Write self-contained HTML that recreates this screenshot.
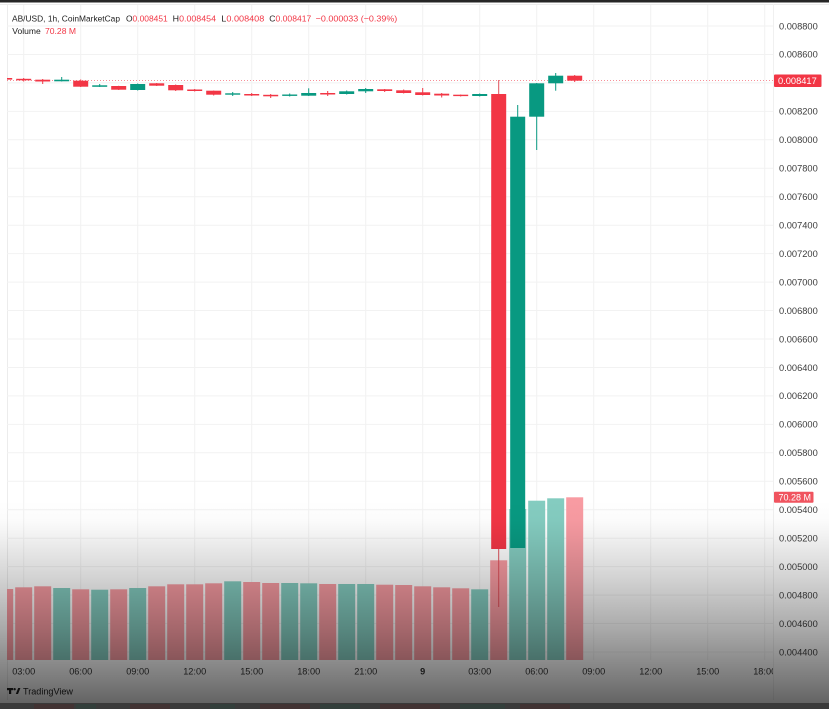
<!DOCTYPE html>
<html>
<head>
<meta charset="utf-8">
<style>
  html,body{margin:0;padding:0;background:#fff;}
  body{width:829px;height:709px;overflow:hidden;}
  svg{display:block;font-family:"Liberation Sans",sans-serif;}
</style>
</head>
<body>
<svg width="829" height="709" viewBox="0 0 829 709" xmlns="http://www.w3.org/2000/svg">
  <defs>
    <clipPath id="plot"><rect x="7" y="4" width="766" height="660"/></clipPath>
    <clipPath id="taxis"><rect x="0" y="660" width="773" height="30"/></clipPath>
    <linearGradient id="shade" x1="0" y1="0" x2="0" y2="1">
      <stop offset="0" stop-color="#000" stop-opacity="0"/>
      <stop offset="0.10" stop-color="#000" stop-opacity="0.015"/>
      <stop offset="0.17" stop-color="#000" stop-opacity="0.05"/>
      <stop offset="0.393" stop-color="#000" stop-opacity="0.18"/>
      <stop offset="0.64" stop-color="#000" stop-opacity="0.34"/>
      <stop offset="0.886" stop-color="#000" stop-opacity="0.52"/>
      <stop offset="1" stop-color="#000" stop-opacity="0.61"/>
    </linearGradient>
  </defs>

  <rect x="0" y="0" width="829" height="709" fill="#ffffff"/>
  <rect x="0" y="0" width="829" height="2.5" fill="#262626"/>
  <line x1="0" y1="4.5" x2="829" y2="4.5" stroke="#ececec" stroke-width="1"/>
  <line x1="7.5" y1="4" x2="7.5" y2="700" stroke="#ececec" stroke-width="1"/>

  <g stroke="#f2f2f2" stroke-width="1" clip-path="url(#plot)">
    <line x1="7" x2="773" y1="26" y2="26"/>
    <line x1="7" x2="773" y1="54.45" y2="54.45"/>
    <line x1="7" x2="773" y1="82.9" y2="82.9"/>
    <line x1="7" x2="773" y1="111.4" y2="111.4"/>
    <line x1="7" x2="773" y1="139.8" y2="139.8"/>
    <line x1="7" x2="773" y1="168.3" y2="168.3"/>
    <line x1="7" x2="773" y1="196.7" y2="196.7"/>
    <line x1="7" x2="773" y1="225.2" y2="225.2"/>
    <line x1="7" x2="773" y1="253.6" y2="253.6"/>
    <line x1="7" x2="773" y1="282.1" y2="282.1"/>
    <line x1="7" x2="773" y1="310.5" y2="310.5"/>
    <line x1="7" x2="773" y1="339" y2="339"/>
    <line x1="7" x2="773" y1="367.5" y2="367.5"/>
    <line x1="7" x2="773" y1="395.9" y2="395.9"/>
    <line x1="7" x2="773" y1="424.4" y2="424.4"/>
    <line x1="7" x2="773" y1="452.8" y2="452.8"/>
    <line x1="7" x2="773" y1="481.3" y2="481.3"/>
    <line x1="7" x2="773" y1="509.7" y2="509.7"/>
    <line x1="7" x2="773" y1="538.2" y2="538.2"/>
    <line x1="7" x2="773" y1="566.6" y2="566.6"/>
    <line x1="7" x2="773" y1="595.1" y2="595.1"/>
    <line x1="7" x2="773" y1="623.5" y2="623.5"/>
    <line x1="7" x2="773" y1="652" y2="652"/>
    <line y1="5" y2="660" x1="23.7" x2="23.7"/>
    <line y1="5" y2="660" x1="80.7" x2="80.7"/>
    <line y1="5" y2="660" x1="137.7" x2="137.7"/>
    <line y1="5" y2="660" x1="194.7" x2="194.7"/>
    <line y1="5" y2="660" x1="251.7" x2="251.7"/>
    <line y1="5" y2="660" x1="308.7" x2="308.7"/>
    <line y1="5" y2="660" x1="365.7" x2="365.7"/>
    <line y1="5" y2="660" x1="422.7" x2="422.7"/>
    <line y1="5" y2="660" x1="479.7" x2="479.7"/>
    <line y1="5" y2="660" x1="536.7" x2="536.7"/>
    <line y1="5" y2="660" x1="593.7" x2="593.7"/>
    <line y1="5" y2="660" x1="650.7" x2="650.7"/>
    <line y1="5" y2="660" x1="707.7" x2="707.7"/>
    <line y1="5" y2="660" x1="764.7" x2="764.7"/>
  </g>
  <line x1="773.5" y1="4" x2="773.5" y2="700" stroke="#f0f0f0" stroke-width="1"/>

  <g clip-path="url(#plot)">
    <rect x="-3.8" y="589" width="17" height="71" fill="#f89ba2"/>
    <rect x="15.2" y="587.3" width="17" height="72.7" fill="#f89ba2"/>
    <rect x="34.2" y="586.3" width="17" height="73.7" fill="#f89ba2"/>
    <rect x="53.2" y="588" width="17" height="72" fill="#84ccc0"/>
    <rect x="72.2" y="589.3" width="17" height="70.7" fill="#f89ba2"/>
    <rect x="91.2" y="589.7" width="17" height="70.3" fill="#84ccc0"/>
    <rect x="110.2" y="589.3" width="17" height="70.7" fill="#f89ba2"/>
    <rect x="129.2" y="588" width="17" height="72" fill="#84ccc0"/>
    <rect x="148.2" y="586.3" width="17" height="73.7" fill="#f89ba2"/>
    <rect x="167.2" y="584.3" width="17" height="75.7" fill="#f89ba2"/>
    <rect x="186.2" y="584.3" width="17" height="75.7" fill="#f89ba2"/>
    <rect x="205.2" y="583.3" width="17" height="76.7" fill="#f89ba2"/>
    <rect x="224.2" y="581.3" width="17" height="78.7" fill="#84ccc0"/>
    <rect x="243.2" y="582" width="17" height="78" fill="#f89ba2"/>
    <rect x="262.2" y="583" width="17" height="77" fill="#f89ba2"/>
    <rect x="281.2" y="583" width="17" height="77" fill="#84ccc0"/>
    <rect x="300.2" y="583.3" width="17" height="76.7" fill="#84ccc0"/>
    <rect x="319.2" y="584" width="17" height="76" fill="#f89ba2"/>
    <rect x="338.2" y="584" width="17" height="76" fill="#84ccc0"/>
    <rect x="357.2" y="584" width="17" height="76" fill="#84ccc0"/>
    <rect x="376.2" y="584.7" width="17" height="75.3" fill="#f89ba2"/>
    <rect x="395.2" y="585" width="17" height="75" fill="#f89ba2"/>
    <rect x="414.2" y="586.3" width="17" height="73.7" fill="#f89ba2"/>
    <rect x="433.2" y="587.3" width="17" height="72.7" fill="#f89ba2"/>
    <rect x="452.2" y="588.3" width="17" height="71.7" fill="#f89ba2"/>
    <rect x="471.2" y="589.3" width="17" height="70.7" fill="#84ccc0"/>
    <rect x="490.2" y="560.3" width="17" height="99.7" fill="#f89ba2"/>
    <rect x="509.2" y="509" width="17" height="151" fill="#84ccc0"/>
    <rect x="528.2" y="500.7" width="17" height="159.3" fill="#84ccc0"/>
    <rect x="547.2" y="498.3" width="17" height="161.7" fill="#84ccc0"/>
    <rect x="566.2" y="497.3" width="17" height="162.7" fill="#f89ba2"/>
  </g>

  <line x1="7" y1="80.5" x2="773" y2="80.5" stroke="#f23645" stroke-width="1" stroke-dasharray="1,2" opacity="0.55"/>

  <g clip-path="url(#plot)">
    <g stroke-width="1">
      <line x1="4.7" x2="4.7" y1="77.5" y2="80" stroke="#f23645"/>
      <line x1="23.7" x2="23.7" y1="78" y2="81.5" stroke="#f23645"/>
      <line x1="42.7" x2="42.7" y1="79" y2="84" stroke="#f23645"/>
      <line x1="61.7" x2="61.7" y1="77" y2="81.5" stroke="#089981"/>
      <line x1="80.7" x2="80.7" y1="79.5" y2="87" stroke="#f23645"/>
      <line x1="99.7" x2="99.7" y1="84" y2="87" stroke="#089981"/>
      <line x1="118.7" x2="118.7" y1="85.8" y2="90" stroke="#f23645"/>
      <line x1="137.7" x2="137.7" y1="83.5" y2="90.5" stroke="#089981"/>
      <line x1="156.7" x2="156.7" y1="83" y2="86" stroke="#f23645"/>
      <line x1="175.7" x2="175.7" y1="84.5" y2="91" stroke="#f23645"/>
      <line x1="194.7" x2="194.7" y1="89" y2="91.5" stroke="#f23645"/>
      <line x1="213.7" x2="213.7" y1="90.5" y2="95.5" stroke="#f23645"/>
      <line x1="232.7" x2="232.7" y1="92" y2="96" stroke="#089981"/>
      <line x1="251.7" x2="251.7" y1="93" y2="96" stroke="#f23645"/>
      <line x1="270.7" x2="270.7" y1="94" y2="98" stroke="#f23645"/>
      <line x1="289.7" x2="289.7" y1="93.5" y2="96.5" stroke="#089981"/>
      <line x1="308.7" x2="308.7" y1="88.3" y2="96" stroke="#089981"/>
      <line x1="327.7" x2="327.7" y1="91" y2="96" stroke="#f23645"/>
      <line x1="346.7" x2="346.7" y1="90.5" y2="94.5" stroke="#089981"/>
      <line x1="365.7" x2="365.7" y1="88" y2="93" stroke="#089981"/>
      <line x1="384.7" x2="384.7" y1="89" y2="92" stroke="#f23645"/>
      <line x1="403.7" x2="403.7" y1="89.5" y2="93.5" stroke="#f23645"/>
      <line x1="422.7" x2="422.7" y1="88" y2="95.5" stroke="#f23645"/>
      <line x1="441.7" x2="441.7" y1="93" y2="97.5" stroke="#f23645"/>
      <line x1="460.7" x2="460.7" y1="94.5" y2="96.5" stroke="#f23645"/>
      <line x1="479.7" x2="479.7" y1="93.5" y2="96.5" stroke="#089981"/>
      <line x1="498.7" x2="498.7" y1="80" y2="607" stroke="#e0505a"/>
      <line x1="517.7" x2="517.7" y1="105" y2="548" stroke="#089981"/>
      <line x1="536.7" x2="536.7" y1="83" y2="150" stroke="#089981"/>
      <line x1="555.7" x2="555.7" y1="73" y2="90.7" stroke="#089981"/>
      <line x1="574.7" x2="574.7" y1="75" y2="82" stroke="#f23645"/>
    </g>
    <rect x="-2.8" y="78" width="15" height="1.6" fill="#f23645"/>
    <rect x="16.2" y="78.8" width="15" height="1.5" fill="#f23645"/>
    <rect x="35.2" y="79.7" width="15" height="1.8" fill="#f23645"/>
    <rect x="54.2" y="79.7" width="15" height="1.6" fill="#089981"/>
    <rect x="73.2" y="80.7" width="15" height="6" fill="#f23645"/>
    <rect x="92.2" y="85.3" width="15" height="1.5" fill="#089981"/>
    <rect x="111.2" y="86" width="15" height="3.7" fill="#f23645"/>
    <rect x="130.2" y="84" width="15" height="6" fill="#089981"/>
    <rect x="149.2" y="83.3" width="15" height="2.4" fill="#f23645"/>
    <rect x="168.2" y="85" width="15" height="5.3" fill="#f23645"/>
    <rect x="187.2" y="89.5" width="15" height="1.5" fill="#f23645"/>
    <rect x="206.2" y="90.7" width="15" height="4" fill="#f23645"/>
    <rect x="225.2" y="93.3" width="15" height="1.4" fill="#089981"/>
    <rect x="244.2" y="94" width="15" height="1.5" fill="#f23645"/>
    <rect x="263.2" y="94.8" width="15" height="1.5" fill="#f23645"/>
    <rect x="282.2" y="94.5" width="15" height="1.4" fill="#089981"/>
    <rect x="301.2" y="93" width="15" height="2.7" fill="#089981"/>
    <rect x="320.2" y="93" width="15" height="1.5" fill="#f23645"/>
    <rect x="339.2" y="91.3" width="15" height="2.7" fill="#089981"/>
    <rect x="358.2" y="89" width="15" height="2.3" fill="#089981"/>
    <rect x="377.2" y="89.3" width="15" height="1.7" fill="#f23645"/>
    <rect x="396.2" y="90.3" width="15" height="2.7" fill="#f23645"/>
    <rect x="415.2" y="92.3" width="15" height="2.7" fill="#f23645"/>
    <rect x="434.2" y="93.7" width="15" height="1.8" fill="#f23645"/>
    <rect x="453.2" y="94.7" width="15" height="1.4" fill="#f23645"/>
    <rect x="472.2" y="94" width="15" height="2" fill="#089981"/>
    <rect x="491.2" y="94" width="15" height="455" fill="#f23645"/>
    <rect x="510.2" y="116.7" width="15" height="431.3" fill="#089981"/>
    <rect x="529.2" y="83.3" width="15" height="33.4" fill="#089981"/>
    <rect x="548.2" y="75.7" width="15" height="7.6" fill="#089981"/>
    <rect x="567.2" y="75.7" width="15" height="5" fill="#f23645"/>
  </g>

  <g font-size="9.3" fill="#3b3b3b">
    <text x="779" y="29.3">0.008800</text>
    <text x="779" y="57.7">0.008600</text>
    <text x="779" y="114.6">0.008200</text>
    <text x="779" y="143.1">0.008000</text>
    <text x="779" y="171.6">0.007800</text>
    <text x="779" y="200">0.007600</text>
    <text x="779" y="228.5">0.007400</text>
    <text x="779" y="256.9">0.007200</text>
    <text x="779" y="285.4">0.007000</text>
    <text x="779" y="313.8">0.006800</text>
    <text x="779" y="342.3">0.006600</text>
    <text x="779" y="370.8">0.006400</text>
    <text x="779" y="399.2">0.006200</text>
    <text x="779" y="427.7">0.006000</text>
    <text x="779" y="456.1">0.005800</text>
    <text x="779" y="484.6">0.005600</text>
    <text x="779" y="513">0.005400</text>
    <text x="779" y="541.5">0.005200</text>
    <text x="779" y="569.9">0.005000</text>
    <text x="779" y="598.4">0.004800</text>
    <text x="779" y="626.8">0.004600</text>
    <text x="779" y="655.3">0.004400</text>
  </g>
  <rect x="774" y="74.5" width="47.5" height="12.5" rx="1" fill="#f23645"/>
  <text x="778" y="84.2" font-size="9.3" fill="#ffffff">0.008417</text>
  <rect x="774" y="491.7" width="39.5" height="11" rx="1" fill="#f0545f"/>
  <text x="778.5" y="500.6" font-size="9" fill="#ffffff">70.28 M</text>

  <g font-size="9.2" fill="#333" text-anchor="middle" clip-path="url(#taxis)">
    <text x="23.7" y="674.3">03:00</text>
    <text x="80.7" y="674.3">06:00</text>
    <text x="137.7" y="674.3">09:00</text>
    <text x="194.7" y="674.3">12:00</text>
    <text x="251.7" y="674.3">15:00</text>
    <text x="308.7" y="674.3">18:00</text>
    <text x="365.7" y="674.3">21:00</text>
    <text x="422.7" y="674.3" font-weight="bold">9</text>
    <text x="479.7" y="674.3">03:00</text>
    <text x="536.7" y="674.3">06:00</text>
    <text x="593.7" y="674.3">09:00</text>
    <text x="650.7" y="674.3">12:00</text>
    <text x="707.7" y="674.3">15:00</text>
    <text x="764.7" y="674.3">18:00</text>
  </g>

  <g fill="#222">
    <rect x="7" y="688" width="6" height="2.2"/>
    <rect x="9" y="688" width="2.2" height="6"/>
    <circle cx="14.6" cy="689.2" r="1.2"/>
    <polygon points="15.8,694 18.2,688 20.4,688 18,694"/>
  </g>
  <text x="23" y="694.6" font-size="9.6" fill="#222" textLength="50" lengthAdjust="spacingAndGlyphs">TradingView</text>

  <g font-size="8.6">
    <text x="12" y="21.5" fill="#222" textLength="108" lengthAdjust="spacingAndGlyphs">AB/USD, 1h, CoinMarketCap</text>
    <text x="126" y="21.5" textLength="41.7" lengthAdjust="spacingAndGlyphs"><tspan fill="#222">O</tspan><tspan fill="#f23645">0.008451</tspan></text>
    <text x="172.7" y="21.5" textLength="43.3" lengthAdjust="spacingAndGlyphs"><tspan fill="#222">H</tspan><tspan fill="#f23645">0.008454</tspan></text>
    <text x="221.3" y="21.5" textLength="43" lengthAdjust="spacingAndGlyphs"><tspan fill="#222">L</tspan><tspan fill="#f23645">0.008408</tspan></text>
    <text x="269.3" y="21.5" textLength="42" lengthAdjust="spacingAndGlyphs"><tspan fill="#222">C</tspan><tspan fill="#f23645">0.008417</tspan></text>
    <text x="315.7" y="21.5" fill="#f23645" textLength="81.6" lengthAdjust="spacingAndGlyphs">−0.000033 (−0.39%)</text>
    <text x="12.3" y="34" fill="#222" textLength="28.4" lengthAdjust="spacingAndGlyphs">Volume</text>
    <text x="45" y="34" fill="#f23645" textLength="31" lengthAdjust="spacingAndGlyphs">70.28 M</text>
  </g>

  <rect x="0" y="500" width="829" height="203" fill="url(#shade)"/>
  <rect x="0" y="703" width="829" height="6" fill="#3a3a3a"/>
  <g opacity="0.9">
    <rect x="34" y="704" width="40" height="5" fill="#433333"/>
    <rect x="76" y="704" width="20" height="5" fill="#33403c"/>
    <rect x="130" y="704" width="40" height="5" fill="#433333"/>
    <rect x="210" y="704" width="25" height="5" fill="#33403c"/>
    <rect x="260" y="704" width="50" height="5" fill="#433333"/>
    <rect x="320" y="704" width="40" height="5" fill="#33403c"/>
    <rect x="380" y="704" width="60" height="5" fill="#433333"/>
    <rect x="460" y="704" width="45" height="5" fill="#33403c"/>
    <rect x="520" y="704" width="50" height="5" fill="#433333"/>
  </g>
</svg>
</body>
</html>
